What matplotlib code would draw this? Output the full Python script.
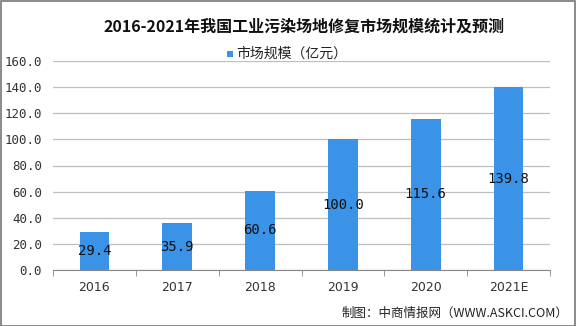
import matplotlib
matplotlib.use("Agg")
import matplotlib.pyplot as plt
from matplotlib.patches import Rectangle

plt.rcParams['font.family'] = ['Noto Sans CJK SC', 'DejaVu Sans']

categories = ["2016", "2017", "2018", "2019", "2020", "2021E"]
values = [29.4, 35.9, 60.6, 100.0, 115.6, 139.8]
yticks = [0, 20, 40, 60, 80, 100, 120, 140, 160]
title = "2016-2021年我国工业污染场地修复市场规模统计及预测"
legend_label = "市场规模（亿元）"
source = "制图：中商情报网（WWW.ASKCI.COM）"

W, H = 576, 326
fig = plt.figure(figsize=(W/100, H/100), dpi=100)
fig.patch.set_facecolor("white")

ax = fig.add_axes([53/W, (H-270)/H, (550-53)/W, (270-61)/H])
x = list(range(len(categories)))
bar_color = "#3a93e6"
ax.bar(x, values, width=0.36, color=bar_color, zorder=3)
for xi, v in zip(x, values):
    ax.text(xi, v/2, f"{v:.1f}", ha="center", va="center", fontsize=10,
            family=["DejaVu Sans Mono"], color="#111111", zorder=4)

ax.set_xlim(-0.5, len(categories)-0.5)
ax.set_ylim(0, 160)
ax.set_yticks(yticks)
ax.set_yticklabels([f"{t:.1f}" for t in yticks], family=["DejaVu Sans Mono"], fontsize=9, color="#333333")
ax.set_xticks(x)
ax.set_xticklabels(categories, family=["DejaVu Sans"], fontsize=9, color="#333333")
ax.tick_params(axis="x", length=0, pad=8)
ax.set_xticks([i-0.5 for i in range(len(categories)+1)], minor=True)
ax.tick_params(axis="x", which="minor", length=4, color="#888888", direction="out")
ax.tick_params(axis="y", length=0, pad=8)
ax.grid(axis="y", color="#bfbfbf", linewidth=0.9, zorder=0)
for s in ["top", "right", "left"]:
    ax.spines[s].set_visible(False)
ax.spines["bottom"].set_color("#888888")

fig.text(304/W, 1-27/H, title, ha="center", va="center", fontsize=11.5,
         fontweight="bold", family=["Noto Sans CJK SC", "DejaVu Sans"], color="#111111")
# legend
fig.patches.append(Rectangle((227/W, 1-57/H), 6/W, 6/H, transform=fig.transFigure,
                             facecolor=bar_color, edgecolor="none"))
fig.text(236/W, 1-54/H, legend_label, ha="left", va="center", fontsize=10, color="#222222")
fig.text(568/W, 1-313/H, source, ha="right", va="center", fontsize=9, color="#222222")

# outer border
fig.patches.append(Rectangle((0.5/W, 0.5/H), (W-1.5)/W, (H-1.5)/H, transform=fig.transFigure,
                             facecolor="none", edgecolor="#777777", linewidth=1.2))

fig.savefig("out.png", dpi=100)
